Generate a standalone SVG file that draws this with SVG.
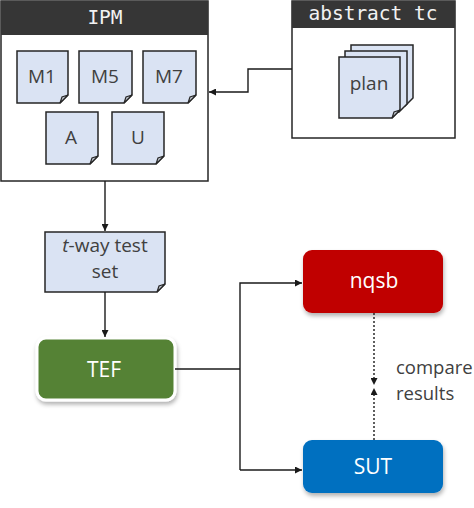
<svg xmlns="http://www.w3.org/2000/svg" width="474" height="508" viewBox="0 0 474 508">
<defs>
<style>
.frame{fill:#fff;stroke:#262626;stroke-width:1.5}
.hdr{fill:#363636}
.htxt{font-family:"DejaVu Sans Mono","Liberation Mono",monospace;font-size:19.5px;fill:#f2f2f2;text-anchor:middle}
.note{fill:#dae3f3;stroke:#262626;stroke-width:1.5}
.fold{fill:#c9cfd9;stroke:#262626;stroke-width:1.2}
.ntxt{font-family:"Open Sans","Noto Sans","Liberation Sans",sans-serif;font-size:19px;fill:#404040;text-anchor:middle}
.btxt{font-family:"Open Sans","Noto Sans","Liberation Sans",sans-serif;font-size:21px;fill:#fff;text-anchor:middle}
.ltxt{font-family:"Open Sans","Noto Sans","Liberation Sans",sans-serif;font-size:18.5px;fill:#404040}
.conn{fill:none;stroke:#1a1a1a;stroke-width:1.4}
.dot{fill:none;stroke:#1a1a1a;stroke-width:1.4;stroke-dasharray:2 2}
</style>
<marker id="arr" viewBox="0 0 10 10" refX="10" refY="5" markerWidth="7" markerHeight="7" orient="auto" markerUnits="userSpaceOnUse">
<path d="M0,0 L10,5 L0,10 Z" fill="#1a1a1a"/>
</marker>
<filter id="sh" x="-10%" y="-10%" width="130%" height="140%">
<feDropShadow dx="1" dy="3" stdDeviation="2" flood-color="#000" flood-opacity="0.3"/>
</filter>
</defs>

<g id="ipm">
<rect class="frame" x="1" y="1" width="207" height="180"/>
<rect class="hdr" x="1" y="1" width="207" height="34"/>
<text class="htxt" x="105" y="24">IPM</text>
<g id="m1">
<path class="note" d="M17,51 H68 V95 L60,103 H17 Z"/><path class="fold" d="M68,95 L60,103 L62,97 Z"/>
<text class="ntxt" x="42" y="83">M1</text></g>
<g id="m5">
<path class="note" d="M79,51 H132 V95 L124,103 H79 Z"/><path class="fold" d="M132,95 L124,103 L126,97 Z"/>
<text class="ntxt" x="105" y="83">M5</text></g>
<g id="m7">
<path class="note" d="M143,51 H196 V95 L188,103 H143 Z"/><path class="fold" d="M196,95 L188,103 L190,97 Z"/>
<text class="ntxt" x="169" y="83">M7</text></g>
<g id="a">
<path class="note" d="M46,112 H98 V156 L90,164 H46 Z"/><path class="fold" d="M98,156 L90,164 L92,158 Z"/>
<text class="ntxt" x="71" y="144">A</text></g>
<g id="u">
<path class="note" d="M112,112 H164 V156 L156,164 H112 Z"/><path class="fold" d="M164,156 L156,164 L158,158 Z"/>
<text class="ntxt" x="138" y="144">U</text></g>
</g>

<g id="abstract-tc">
<rect class="frame" x="292" y="1" width="163" height="137"/>
<rect class="hdr" x="292" y="1" width="163" height="27"/>
<text class="htxt" x="373" y="20">abstract tc</text>
<g id="plan">
<path class="note" d="M351,45 H413 V98 L405,106 H351 Z"/>
<path class="note" d="M345,51 H407 V104 L399,112 H345 Z"/>
<path class="note" d="M339,57 H400 V110 L392,118 H339 Z"/><path class="fold" d="M400,110 L392,118 L394,112 Z"/>
<text class="ntxt" x="369" y="90">plan</text>
</g>
</g>

<g id="tway">
<path class="note" d="M45,232 H165 V284 L157,292 H45 Z"/><path class="fold" d="M165,284 L157,292 L159,286 Z"/>
<text class="ntxt" x="105" y="252"><tspan font-style="italic">t</tspan>-way test</text>
<text class="ntxt" x="105" y="278">set</text>
</g>

<g id="tef">
<rect x="37" y="338" width="138" height="62" rx="9" fill="#548235" stroke="#fff" stroke-width="3" filter="url(#sh)"/>
<text class="btxt" x="104" y="377" font-size="23">TEF</text>
</g>

<g id="nqsb">
<rect x="303" y="250" width="140" height="63" rx="9" fill="#c00000" filter="url(#sh)"/>
<text class="btxt" x="374" y="288">nqsb</text>
</g>

<g id="sut">
<rect x="303" y="440" width="140" height="53" rx="9" fill="#0070c0" filter="url(#sh)"/>
<text class="btxt" x="373" y="474">SUT</text>
</g>

<g id="connectors">
<path class="conn" d="M292,69 H248 V92 H209" marker-end="url(#arr)"/>
<path class="conn" d="M105,181 V231" marker-end="url(#arr)"/>
<path class="conn" d="M105,292 V337" marker-end="url(#arr)"/>
<path class="conn" d="M175,369 H240"/>
<path class="conn" d="M240,470 V283 H302" marker-end="url(#arr)"/>
<path class="conn" d="M240,470 H302" marker-end="url(#arr)"/>
<path class="dot" d="M374,313 V385" marker-end="url(#arr)"/>
<path class="dot" d="M374,440 V388" marker-end="url(#arr)"/>
<text class="ltxt" x="396" y="374">compare</text>
<text class="ltxt" x="396" y="400">results</text>
</g>
</svg>
